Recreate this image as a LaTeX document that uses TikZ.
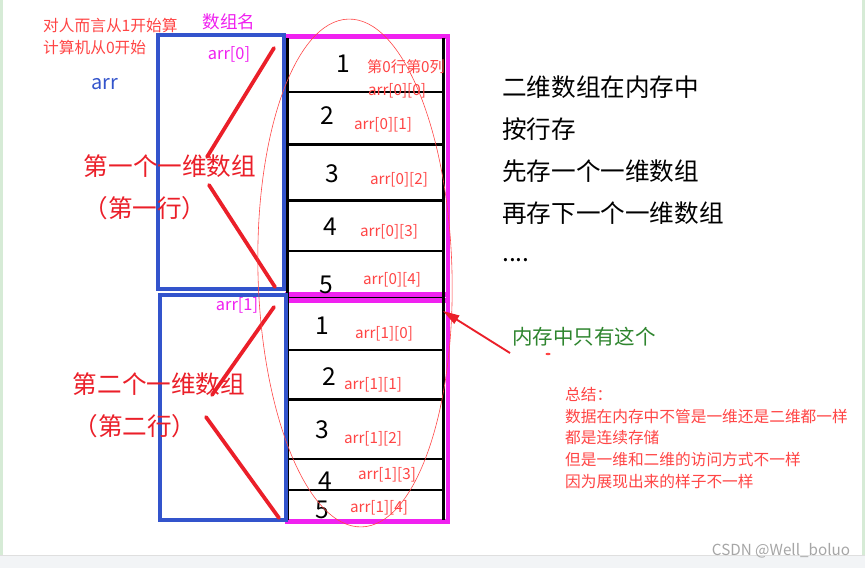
\documentclass[tikz,border=0pt]{standalone}
\usepackage{fontspec}
\setmainfont{Noto Sans CJK SC}
\usetikzlibrary{arrows.meta}
\tikzset{blubox/.style = {draw = mblue, line width = 3.8pt}}
\tikzset{memframe/.style = {draw = mmag, line width = 4pt}}
\tikzset{cellline/.style = {draw = black, line width = 2.5pt}}
\tikzset{redline/.style = {draw = mred, line width = 3.2pt, line cap = round}}
\tikzset{num/.style = {inner sep = 0, font = \fontsize{21pt}{25pt}\selectfont}}
\tikzset{idx/.style = {inner sep = 0, text = lred, font = \fontsize{13pt}{15pt}\selectfont}}
\tikzset{rowname/.style = {inner sep = 0, text = mred, font = \fontsize{21pt}{25pt}\selectfont}}
\tikzset{arrname/.style = {inner sep = 0, text = mmag, font = \fontsize{14pt}{16pt}\selectfont}}
\tikzset{memo/.style = {inner sep = 0, anchor = west, font = \fontsize{21pt}{25pt}\selectfont}}
\tikzset{remark/.style = {inner sep = 0, anchor = west, text = lred, font = \fontsize{13.4pt}{15pt}\selectfont}}
\definecolor{mblue}{rgb}{0.2, 0.33, 0.8}
\definecolor{mmag}{rgb}{0.94, 0.13, 0.94}
\definecolor{mred}{rgb}{0.92, 0.12, 0.16}
\definecolor{lred}{rgb}{1.0, 0.27, 0.27}
\definecolor{mgreen}{rgb}{0.18, 0.52, 0.18}
\definecolor{barbg}{rgb}{0.95, 0.955, 0.965}
\definecolor{paneedge}{rgb}{0.84, 0.92, 0.84}

\begin{document}
\begin{tikzpicture}[x = 0.03cm, y = -0.03cm]
    \useasboundingbox (0, 0) rectangle (865, 568);
    \fill [white] (0, 0) rectangle (865, 568);
    \fill [barbg] (0, 555) rectangle (865, 568);
    \draw [gray!25] (0, 555) -- (865, 555);
    \fill [paneedge] (0, 0) rectangle (3, 555);
    \fill [paneedge] (862, 0) rectangle (865, 555);

    \draw [memframe] (285, 36.5) -- (448, 36.5) -- (448, 521.5) -- (285, 521.5);
    \draw [memframe] (285, 294.5) -- (448, 294.5);
    \draw [memframe] (285, 300.5) -- (448, 300.5);
    \draw [black, line width = 0.8pt] (287, 297.5) -- (444, 297.5);
    \draw [cellline] (287.5, 38) -- (287.5, 520);
    \draw [cellline] (443.5, 38) -- (443.5, 520);
    \foreach \y in {92, 144.5, 200.5, 251, 350, 399.5, 459, 490} {
      \draw [cellline] (287.5, \y) -- (443.5, \y);
    }

    \draw [blubox] (158, 35) rectangle (284, 289);
    \draw [blubox] (160, 295) rectangle (286, 520);

    \foreach \n/\x/\y in {1/343/64, 2/327/116, 3/332/174, 4/330/227, 5/326/285} {
      \node [num] (u\n) at (\x, \y) {\n};
    }
    \foreach \n/\x/\y in {1/322/326, 2/329/377, 3/322/430, 4/325/481, 5/322/510} {
      \node [num] (d\n) at (\x, \y) {\n};
    }

    \node [idx] (pos00) at (406, 67) {第0行第0列};
    \foreach \i/\j/\x/\y in {0/0/397/91, 0/1/383/125, 0/2/399/180, 0/3/389/232, 0/4/392/280,
                             1/0/384/334, 1/1/373/385, 1/2/373/439, 1/3/387/475, 1/4/379/508} {
      \node [idx] (a\i\j) at (\x, \y) {arr[\i][\j]};
    }

    \node [remark] (count1) at (43, 26) {对人而言从1开始算};
    \node [remark] (count0) at (43, 48) {计算机从0开始};
    \node [arrname, font = \fontsize{15pt}{17pt}\selectfont] (aname) at (229, 22) {数组名};
    \node [arrname] (row0) at (229, 54) {arr[0]};
    \node [arrname] (row1) at (237, 305) {arr[1]};
    \node [inner sep = 0, text = mblue, font = \fontsize{17pt}{19pt}\selectfont] (arr) at (105, 84) {arr};

    \node [rowname] (first) at (170, 166) {第一个一维数组};
    \node [rowname] (firstrow) at (145, 208) {（第一行）};
    \node [rowname] (second) at (159, 384) {第二个一维数组};
    \node [rowname] (secondrow) at (135, 426) {（第二行）};

    \coordinate (p1) at (274, 48);
    \coordinate (p2) at (207, 157);
    \coordinate (p3) at (209, 185);
    \coordinate (p4) at (275, 287);
    \coordinate (p5) at (274, 307);
    \coordinate (p6) at (212, 395);
    \coordinate (p7) at (206, 417);
    \coordinate (p8) at (279, 518);
    \draw [redline] (p1) -- (p2);
    \draw [redline] (p3) -- (p4);
    \draw [redline] (p5) -- (p6);
    \draw [redline] (p7) -- (p8);

    \draw [lred, line width = 0.5pt, rotate around = {1.5:(355, 273)}] (355, 273) ellipse [x radius = 97, y radius = 254];

    \node [memo] (m1) at (502, 87.5) {二维数组在内存中};
    \node [memo] (m2) at (502, 129) {按行存};
    \node [memo] (m3) at (502, 171) {先存一个一维数组};
    \node [memo] (m4) at (502, 213) {再存下一个一维数组};
    \node [memo, anchor = base west] (m5) at (502, 262) {....};

    \node [inner sep = 0, anchor = west, text = mgreen, font = \fontsize{17.5pt}{20pt}\selectfont] (only) at (512, 337) {内存中只有这个};
    \coordinate (tail) at (510, 353);
    \coordinate (tip) at (443, 311);
    \draw [mred, line width = 1.6pt, -{Triangle[length = 14pt, width = 8pt]}] (tail) -- (tip);
    \fill [lred] (548, 354) ellipse [x radius = 2.5, y radius = 1.2];

    \node [remark] (sum0) at (565, 395) {总结：};
    \node [remark] (sum1) at (565, 417) {数据在内存中不管是一维还是二维都一样};
    \node [remark] (sum2) at (565, 438) {都是连续存储};
    \node [remark] (sum3) at (565, 460) {但是一维和二维的访问方式不一样};
    \node [remark] (sum4) at (565, 482) {因为展现出来的样子不一样};

    \node [inner sep = 0, text = gray!70, font = \fontsize{13pt}{15pt}\selectfont] (mark) at (781, 551) {CSDN @Well\_boluo};
\end{tikzpicture}
\end{document}
